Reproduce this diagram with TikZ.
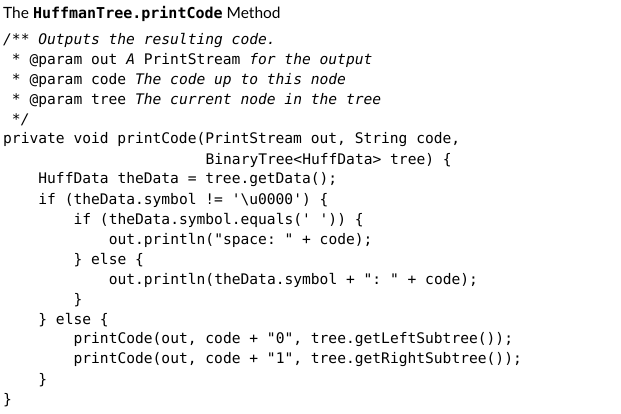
\documentclass[tikz,border=0pt]{standalone}
\usepackage{fontspec}
\setmainfont{Lato}
\newfontfamily\codefont{DejaVu Sans Mono}
\frenchspacing
\begin{document}
\begin{tikzpicture}[x=1pt,y=1pt,
  codeline/.style={anchor=west,inner sep=0pt,font=\codefont\fontsize{14.6}{18}\selectfont}]
\useasboundingbox (0,0) rectangle (621,-413);
\node[anchor=west,inner sep=0pt,font=\fontsize{15.5}{18}\selectfont] (title) at (3,-14)
  {The {\codefont\bfseries\fontsize{15}{18}\selectfont HuffmanTree.printCode} Method};
\def\cw{8.8}
\def\ls{20.0}
\def\yo{-40}
\newcommand\cl[3]{\node[codeline] (l#1) at ({3+#2*\cw},{\yo-#1*\ls}) {#3};}
\cl{0}{0}{\itshape /** Outputs the resulting code.}
\cl{1}{1}{* @param out {\itshape A} PrintStream {\itshape for the output}}
\cl{2}{1}{* @param code {\itshape The code up to this node}}
\cl{3}{1}{* @param tree {\itshape The current node in the tree}}
\cl{4}{1}{\itshape */}
\cl{5}{0}{private void printCode(PrintStream out, String code,}
\cl{6}{23}{BinaryTree<HuffData> tree) \{}
\cl{7}{4}{HuffData theData = tree.getData();}
\cl{8}{4}{if (theData.symbol != '\textbackslash u0000') \{}
\cl{9}{8}{if (theData.symbol.equals(' ')) \{}
\cl{10}{12}{out.println("space: " + code);}
\cl{11}{8}{\} else \{}
\cl{12}{12}{out.println(theData.symbol + ": " + code);}
\cl{13}{8}{\}}
\cl{14}{4}{\} else \{}
\cl{15}{8}{printCode(out, code + "0", tree.getLeftSubtree());}
\cl{16}{8}{printCode(out, code + "1", tree.getRightSubtree());}
\cl{17}{4}{\}}
\cl{18}{0}{\}}
\end{tikzpicture}
\end{document}
